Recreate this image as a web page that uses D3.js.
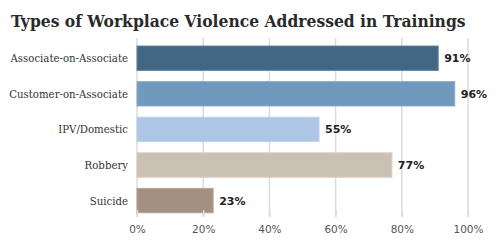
<!DOCTYPE html>
<html><head><meta charset="utf-8">
<script src="https://cdn.jsdelivr.net/npm/d3@7"></script>
<style>body{margin:0;background:#fff}svg{display:block}</style>
</head><body>
<script>
const categories = ["Associate-on-Associate","Customer-on-Associate","IPV/Domestic","Robbery","Suicide"];
const values = [91, 96, 55, 77, 23];
const colors = ["#426785","#7199bd","#adc6e5","#cbc0b4","#a39080"];
const ticks = [0,20,40,60,80,100];
const title = "Types of Workplace Violence Addressed in Trainings";

const W=500,H=243;
const svg=d3.select("body").append("svg").attr("width",W).attr("height",H);
const x=d3.scaleLinear().domain([0,100]).range([137,468]);
const y=d3.scaleBand().domain(categories).range([34.8,224]).padding(0.315);

// gridlines
svg.append("g").selectAll("line").data(ticks).join("line")
  .attr("x1",d=>x(d)).attr("x2",d=>x(d)).attr("y1",38).attr("y2",217)
  .attr("stroke","#dcdcdc").attr("stroke-width",1.5);

// bars
svg.append("g").selectAll("rect").data(values).join("rect")
  .attr("x",x(0)).attr("y",(d,i)=>y(categories[i]))
  .attr("width",d=>x(d)-x(0)).attr("height",y.bandwidth())
  .attr("fill",(d,i)=>colors[i])
  .attr("stroke",(d,i)=>d3.interpolateRgb(colors[i],"#fff")(0.2)).attr("stroke-width",1);

// value labels
svg.append("g").selectAll("text").data(values).join("text")
  .attr("x",d=>x(d)+6).attr("y",(d,i)=>y(categories[i])+y.bandwidth()/2)
  .attr("dy","0.36em").text(d=>d+"%")
  .attr("font-family","DejaVu Sans").attr("font-weight","bold").attr("font-size",11).attr("fill","#222");

// category labels (horizontally condensed via transform)
const cl=svg.append("g").selectAll("text").data(categories).join("text")
  .attr("text-anchor","end").attr("dy","0.36em").text(d=>d)
  .attr("font-family","DejaVu Serif").attr("font-size",11).attr("fill","#333");
const widths=cl.nodes().map(n=>n.getComputedTextLength());
const k=119/d3.max(widths);
cl.attr("transform",d=>`translate(128,${y(d)+y.bandwidth()/2}) scale(${k},1)`);

// x axis
const ax=d3.axisBottom(x).tickValues(ticks).tickFormat(d=>d+"%").tickSize(7).tickSizeOuter(0);
const g=svg.append("g").attr("transform","translate(0,210)").call(ax);
g.select(".domain").remove();
g.selectAll(".tick line").attr("stroke","#dcdcdc").attr("stroke-width",1.5);
g.selectAll(".tick text").attr("y",16).attr("font-family","DejaVu Sans").attr("font-size",10.5).attr("fill","#555");

// title
const t=svg.append("text").text(title)
  .attr("font-family","DejaVu Serif").attr("font-weight","bold").attr("font-size",17.5).attr("fill","#2a2a2a");
const tw=t.node().getComputedTextLength();
t.attr("transform",`translate(11,27) scale(${Math.min(1,455/tw)},1)`);
</script>
</body></html>
